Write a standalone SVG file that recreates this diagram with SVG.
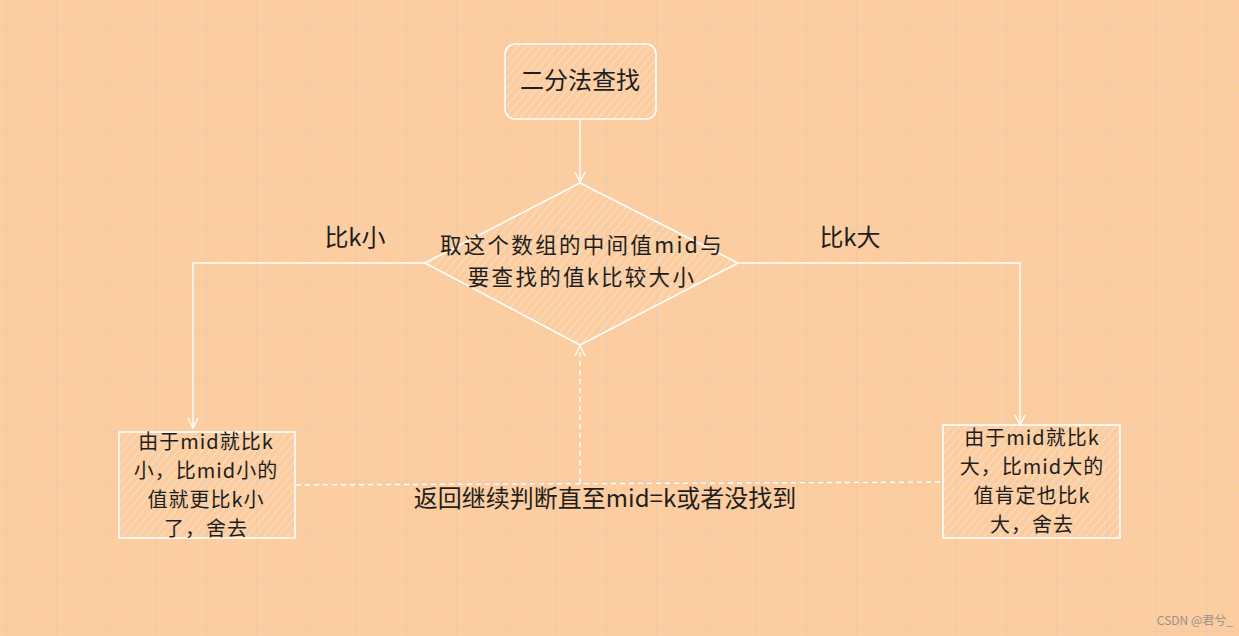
<svg xmlns="http://www.w3.org/2000/svg" width="1239" height="636" viewBox="0 0 1239 636">
<defs>
<pattern id="minor" width="12.5" height="12.5" patternUnits="userSpaceOnUse" x="6" y="6">
<path d="M0 0V12.5M0 0H12.5" stroke="#eed3b6" stroke-width="1" fill="none"/>
</pattern>
<pattern id="major" width="50" height="50" patternUnits="userSpaceOnUse" x="6" y="31">
<path d="M0 0V50M0 0H50" stroke="#dccab9" stroke-width="1.2" fill="none"/>
</pattern>
<pattern id="hatch" width="6" height="6" patternUnits="userSpaceOnUse" patternTransform="rotate(40)">
<line x1="0" y1="0" x2="0" y2="6" stroke="#ffffff" stroke-opacity="0.6" stroke-width="1"/>
</pattern>
<marker id="arr" viewBox="0 0 12 12" refX="11" refY="6" markerWidth="12" markerHeight="12" markerUnits="userSpaceOnUse" orient="auto">
<path d="M1 1L11 6L1 11" fill="none" stroke="#ffffff" stroke-width="1.3"/>
</marker>
<style>
.shape{fill:url(#hatch);stroke:#ffffff;stroke-width:1.6}
.t{font-family:"Noto Sans CJK SC","Noto Sans",sans-serif;font-size:24px;fill:#1e1e1e;text-anchor:middle}
.m{font-size:21.5px;letter-spacing:2.3px}
.b{font-size:20px;letter-spacing:1px}
.c{fill:none;stroke:#ffffff;stroke-width:1.4}
.d{fill:none;stroke:#ffffff;stroke-width:1.4;stroke-dasharray:5 4}
</style>
</defs>
<rect width="1239" height="636" fill="#fdcd9f"/>
<rect width="1239" height="636" fill="url(#minor)"/>
<rect width="1239" height="636" fill="url(#major)"/>

<g id="connectors">
<path class="c" d="M580 120V182" marker-end="url(#arr)"/>
<path class="c" d="M425 263L193 263V428" marker-end="url(#arr)"/>
<path class="c" d="M738 263L1020 263V425" marker-end="url(#arr)"/>
<path class="d" d="M296 485L943 482"/>
<path class="d" d="M580 483V346" marker-end="url(#arr)"/>
</g>

<g id="start">
<rect class="shape" x="505" y="44" width="151" height="75" rx="10"/>
<text class="t" x="580" y="89">二分法查找</text>
</g>

<g id="decision">
<path class="shape" d="M580 183L738 263L580 345L425 263Z"/>
<text class="t m" x="582" y="253">取这个数组的中间值mid与</text>
<text class="t m" x="582" y="285">要查找的值k比较大小</text>
</g>

<g id="left">
<rect class="shape" x="119" y="432" width="176" height="106"/>
<text class="t b" x="206" y="449">由于mid就比k</text>
<text class="t b" x="206" y="478">小，比mid小的</text>
<text class="t b" x="206" y="507">值就更比k小</text>
<text class="t b" x="206" y="536">了，舍去</text>
</g>

<g id="right">
<rect class="shape" x="943" y="425" width="177" height="113"/>
<text class="t b" x="1032" y="445">由于mid就比k</text>
<text class="t b" x="1032" y="474">大，比mid大的</text>
<text class="t b" x="1032" y="503">值肯定也比k</text>
<text class="t b" x="1032" y="532">大，舍去</text>
</g>

<g id="labels">
<text class="t" x="355" y="246">比k小</text>
<text class="t" x="850" y="246">比k大</text>
<text class="t" x="605" y="507">返回继续判断直至mid=k或者没找到</text>
</g>

<text x="1233" y="625" text-anchor="end" font-family="'Noto Sans CJK SC','Noto Sans',sans-serif" font-size="12" fill="#9a8f86">CSDN @君兮_</text>
</svg>
